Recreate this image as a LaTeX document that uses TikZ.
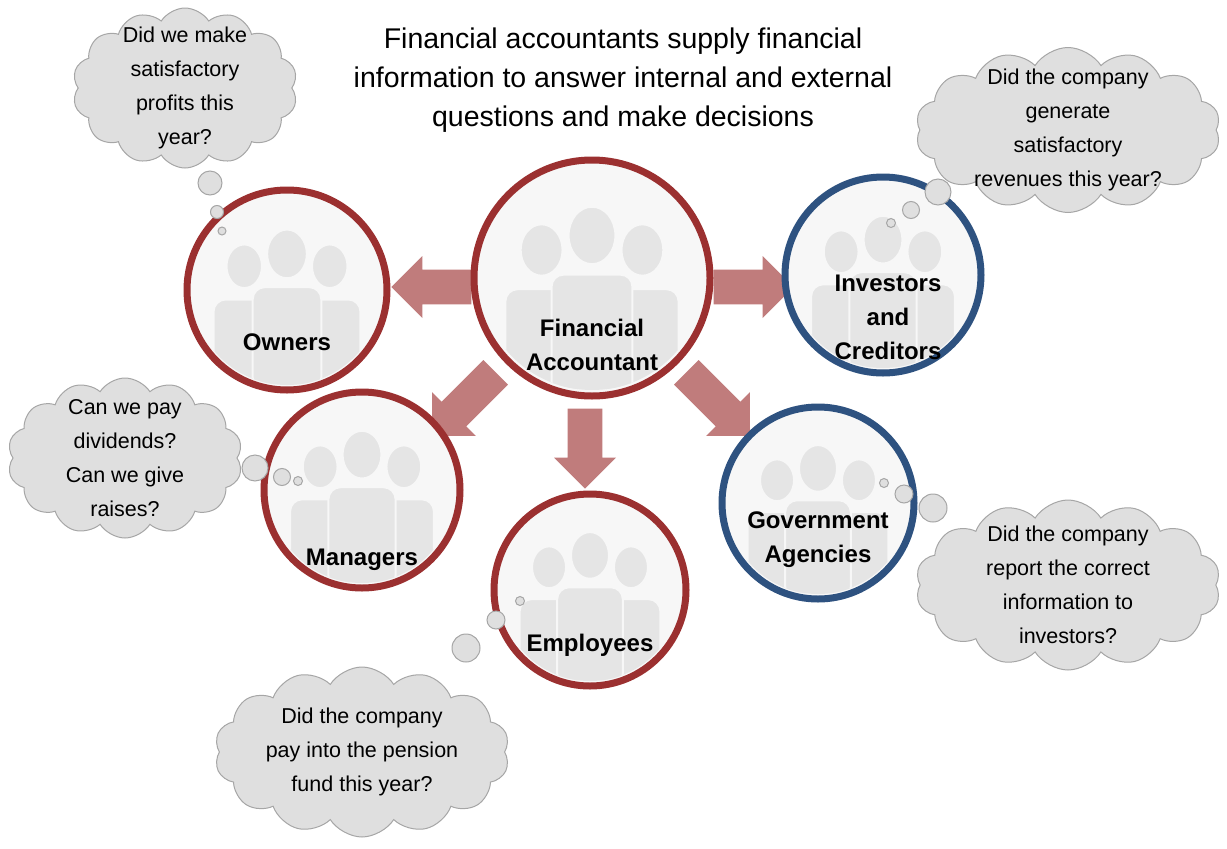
\documentclass[tikz,border=0pt]{standalone}
\usepackage{fontspec}
\setmainfont{Liberation Sans}
\usetikzlibrary{shapes.symbols,shapes.arrows,calc}
\definecolor{rim}{HTML}{9B3030}
\definecolor{blu}{HTML}{2E5280}
\definecolor{arr}{HTML}{B56565}
\tikzset{
 ring/.style={circle,draw=#1,line width=7pt,fill=gray!6,inner sep=0pt},
 cloudq/.style={cloud,cloud puffs=14,cloud puff arc=115,cloud ignores aspect,draw=gray!70,fill=gray!25,line width=1pt,inner sep=0pt},
 qtext/.style={align=center,font=\fontsize{21.5}{34}\selectfont},
 bub/.style={circle,draw=gray!70,fill=gray!25,line width=1pt,inner sep=0pt},
 lbl/.style={font=\bfseries\fontsize{24}{34}\selectfont,align=center},
 barrow/.style={single arrow,fill=arr,draw=none,opacity=0.85,minimum height=#1,minimum width=62pt,single arrow head extend=8pt,inner sep=10pt}
}
\newcommand{\people}[2]{%
 \begin{scope}
 \clip (#1) circle (#2);
 \foreach \dx/\dy/\s in {-0.45/0.08/0.85,0.45/0.08/0.85,0/-0.05/0.95}{
  \fill[gray!20,draw=gray!6,line width=2pt] ($(#1)+(\dx*#2,\dy*#2-0.33*#2)$) ellipse ({0.22*#2*\s} and {0.27*#2*\s});
  \fill[gray!20,draw=gray!6,line width=2pt,rounded corners=12pt] ($(#1)+(\dx*#2-0.38*#2*\s,\dy*#2+1.1*#2)$) rectangle ($(#1)+(\dx*#2+0.38*#2*\s,\dy*#2+0.02*#2)$);
 }
 \end{scope}}
\begin{document}
\begin{tikzpicture}[x=1pt,y=-1pt]
\useasboundingbox (0,0) rectangle (1227,849);
% arrows
\node[barrow=80pt,rotate=180] (a1) at (440,287) {};
\node[barrow=80pt] (a2) at (745,287) {};
\node[barrow=90pt,rotate=-135] (a3) at (470,398) {};
\node[barrow=80pt,rotate=-90] (a4) at (585,440) {};
\node[barrow=90pt,rotate=-45] (a5) at (712,398) {};
% circles
\coordinate (cf) at (592,278);
\node[ring=rim,minimum size=236pt] (fa) at (cf) {};
\people{cf}{112}
\node[lbl] at (592,345) {Financial\\Accountant};
\coordinate (co) at (287,290);
\node[ring=rim,minimum size=200pt] (ow) at (co) {};
\people{co}{95}
\node[lbl] at (287,342) {Owners};
\coordinate (ci) at (883,275);
\node[ring=blu,minimum size=196pt] (iv) at (ci) {};
\people{ci}{93}
\node[lbl] at (888,317) {Investors\\and\\Creditors};
\coordinate (cm) at (362,490);
\node[ring=rim,minimum size=196pt] (mg) at (cm) {};
\people{cm}{93}
\node[lbl] at (362,560) {Managers};
\coordinate (ce) at (590,590);
\node[ring=rim,minimum size=192pt] (em) at (ce) {};
\people{ce}{91}
\node[lbl] at (590,645) {Employees};
\coordinate (cg) at (818,503);
\node[ring=blu,minimum size=192pt] (gv) at (cg) {};
\people{cg}{91}
\node[lbl] at (818,540) {Government\\Agencies};
% title
\node[align=center,font=\fontsize{28.5}{39}\selectfont] (t) at (623,80) {Financial accountants supply financial\\information to answer internal and external\\questions and make decisions};
% clouds
\node[cloudq,minimum width=225pt,minimum height=160pt] (q1) at (185,88) {};
\node[qtext] at (q1) {Did we make\\satisfactory\\profits this\\year?};
\node[bub,minimum size=24pt] at (210,183) {};
\node[bub,minimum size=13pt] at (217,212) {};
\node[bub,minimum size=8pt] at (222,231) {};
\node[cloudq,minimum width=305pt,minimum height=165pt] (q2) at (1068,130) {};
\node[qtext] at (q2) {Did the company\\generate\\satisfactory\\revenues this year?};
\node[bub,minimum size=26pt] at (938,192) {};
\node[bub,minimum size=17pt] at (911,210) {};
\node[bub,minimum size=9pt] at (891,223) {};
\node[cloudq,minimum width=235pt,minimum height=160pt] (q3) at (125,458) {};
\node[qtext] at (q3) {Can we pay\\dividends?\\Can we give\\raises?};
\node[bub,minimum size=26pt] at (255,468) {};
\node[bub,minimum size=17pt] at (282,477) {};
\node[bub,minimum size=9pt] at (298,481) {};
\node[cloudq,minimum width=295pt,minimum height=170pt] (q4) at (362,752) {};
\node[qtext] at (q4) {Did the company\\pay into the pension\\fund this year?};
\node[bub,minimum size=28pt] at (466,648) {};
\node[bub,minimum size=18pt] at (496,620) {};
\node[bub,minimum size=9pt] at (520,601) {};
\node[cloudq,minimum width=305pt,minimum height=170pt] (q5) at (1068,585) {};
\node[qtext] at (q5) {Did the company\\report the correct\\information to\\investors?};
\node[bub,minimum size=28pt] at (933,508) {};
\node[bub,minimum size=18pt] at (904,494) {};
\node[bub,minimum size=9pt] at (884,483) {};
\end{tikzpicture}
\end{document}
